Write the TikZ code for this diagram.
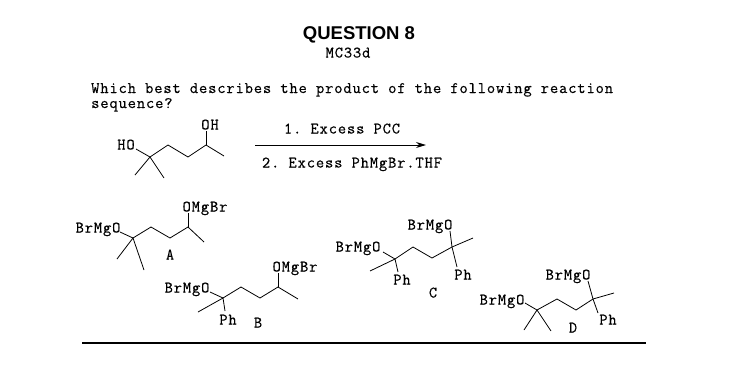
\documentclass[tikz,border=0pt]{standalone}
\usepackage{fontspec}
\setmainfont{Liberation Sans}
\setmonofont{Latin Modern Mono}[LetterSpace=5.6, FakeBold=0.5]
\usetikzlibrary{arrows.meta}
\begin{document}
\begin{tikzpicture}[x=1pt,y=-1pt,
  lbl/.style={font=\fontsize{16}{18}\selectfont\ttfamily, inner sep=0pt, text height=9pt, text depth=0pt},
  txt/.style={font=\fontsize{16}{18}\selectfont\ttfamily, inner sep=0pt, anchor=base west},
  bond/.style={line width=0.8pt},
  rxn/.style={line width=0.9pt, -{Stealth[length=10pt,width=6pt]}}]
\useasboundingbox (0,0) rectangle (739,376);

% title
\node[font=\fontsize{18.5}{20}\selectfont\bfseries, inner sep=0pt] (title) at (359,35) {QUESTION 8};
\node[lbl] (code) at (348,53) {MC33d};
\node[txt] (q1) at (91,93) {Which best describes the product of the following reaction};
\node[txt] (q2) at (91,108) {sequence?};

% reaction arrow
\coordinate (ar1) at (255,145);
\coordinate (ar2) at (426,145);
\draw[rxn] (ar1) -- (ar2);
\node[lbl] (r1) at (342,129) {1. Excess PCC};
\node[lbl] (r2) at (352,163) {2. Excess PhMgBr.THF};

% starting material
\node[lbl] (ho) at (126,145) {HO};
\node[lbl] (oh) at (210,125) {OH};
\coordinate (s0) at (136,149);
\coordinate (s1) at (150,157);
\coordinate (s2) at (168,145);
\coordinate (s3) at (188,157);
\coordinate (s4) at (206,145);
\coordinate (s5) at (224,156);
\coordinate (sm1) at (135,175);
\coordinate (sm2) at (164,178);
\coordinate (so) at (206,131);
\draw[bond] (s0) -- (s1) -- (s2) -- (s3) -- (s4) -- (s5);
\draw[bond] (sm1) -- (s1) -- (sm2);
\draw[bond] (s4) -- (so);

% A
\node[lbl] (ao1) at (98,228) {BrMgO};
\node[lbl] (ao2) at (205,207) {OMgBr};
\node[lbl] (la) at (170,255) {A};
\coordinate (a0) at (120,232);
\coordinate (a1) at (133,238);
\coordinate (a2) at (151,227);
\coordinate (a3) at (170,238);
\coordinate (a4) at (188,227);
\coordinate (a5) at (204,242);
\coordinate (am1) at (117,259);
\coordinate (am2) at (144,270);
\coordinate (ao) at (188,213);
\draw[bond] (a0) -- (a1) -- (a2) -- (a3) -- (a4) -- (a5);
\draw[bond] (am1) -- (a1) -- (am2);
\draw[bond] (a4) -- (ao);

% B
\node[lbl] (bo1) at (187,288) {BrMgO};
\node[lbl] (bo2) at (295,267) {OMgBr};
\node[lbl] (bph) at (228,320) {Ph};
\node[lbl] (lb) at (258,323) {B};
\coordinate (b0) at (210,292);
\coordinate (b1) at (223,298);
\coordinate (b2) at (241,287);
\coordinate (b3) at (260,298);
\coordinate (b4) at (278,287);
\coordinate (b5) at (298,299);
\coordinate (bm) at (198,312);
\coordinate (bp) at (225,311);
\coordinate (bo) at (278,273);
\draw[bond] (b0) -- (b1) -- (b2) -- (b3) -- (b4) -- (b5);
\draw[bond] (bm) -- (b1) -- (bp);
\draw[bond] (b4) -- (bo);

% C
\node[lbl] (co1) at (358,247) {BrMgO};
\node[lbl] (co2) at (430,225) {BrMgO};
\node[lbl] (cph1) at (402,280) {Ph};
\node[lbl] (cph2) at (463,275) {Ph};
\node[lbl] (lc) at (433,293) {C};
\coordinate (c0) at (383,252);
\coordinate (c1) at (395,259);
\coordinate (c2) at (413,247);
\coordinate (c3) at (432,258);
\coordinate (c4) at (452,247);
\coordinate (cm1) at (370,271);
\coordinate (cp1) at (398,272);
\coordinate (cm2) at (473,238);
\coordinate (co) at (450,231);
\coordinate (cp2) at (457,267);
\draw[bond] (c0) -- (c1) -- (c2) -- (c3) -- (c4) -- (cm2);
\draw[bond] (cm1) -- (c1) -- (cp1);
\draw[bond] (co) -- (c4) -- (cp2);

% D
\node[lbl] (do1) at (502,300) {BrMgO};
\node[lbl] (do2) at (568,275) {BrMgO};
\node[lbl] (dph) at (608,320) {Ph};
\node[lbl] (ld) at (573,328) {D};
\coordinate (d0) at (525,303);
\coordinate (d1) at (537,310);
\coordinate (d2) at (557,299);
\coordinate (d3) at (576,310);
\coordinate (d4) at (593,299);
\coordinate (dm1) at (524,330);
\coordinate (dm2) at (551,331);
\coordinate (dm3) at (614,293);
\coordinate (do) at (588,281);
\coordinate (dp) at (598,313);
\draw[bond] (d0) -- (d1) -- (d2) -- (d3) -- (d4) -- (dm3);
\draw[bond] (dm1) -- (d1) -- (dm2);
\draw[bond] (do) -- (d4) -- (dp);

% rule
\coordinate (l1) at (82,343);
\coordinate (l2) at (646,343);
\draw[line width=2.5pt] (l1) -- (l2);
\end{tikzpicture}
\end{document}
